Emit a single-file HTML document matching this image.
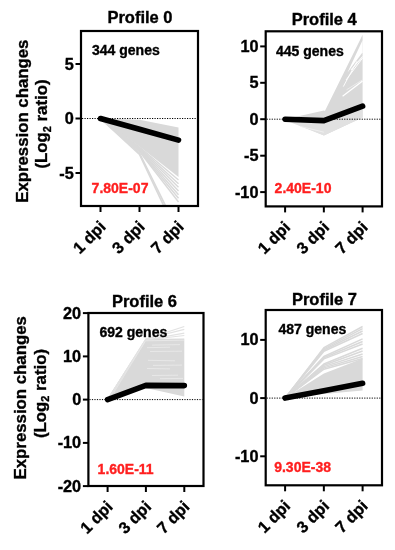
<!DOCTYPE html><html><head><meta charset="utf-8"><style>html,body{margin:0;padding:0;background:#fff;width:395px;height:550px;overflow:hidden}svg{display:block}text{font-family:'Liberation Sans', Arial, sans-serif;font-weight:bold;stroke:#000;stroke-width:0.35px}.r{fill:#ff1f1f;stroke:#ff1f1f}</style></head><body>
<svg width="395" height="550" viewBox="0 0 395 550">
<clipPath id="c0"><rect x="81" y="31" width="117" height="175"/></clipPath>
<g clip-path="url(#c0)"><polygon points="100.5,118.5 139.5,119.8 178.5,127.5 178.5,177.0 139.5,146.5" fill="#d9d9d9"/><polyline points="100.5,118.5 139.5,147.0 178.5,180.0" fill="none" stroke="#d9d9d9" stroke-width="1.4" stroke-linejoin="round"/><polyline points="100.5,118.5 139.5,147.8 178.5,183.7" fill="none" stroke="#d9d9d9" stroke-width="1.4" stroke-linejoin="round"/><polyline points="100.5,118.5 139.5,148.5 178.5,187.3" fill="none" stroke="#d9d9d9" stroke-width="1.4" stroke-linejoin="round"/><polyline points="100.5,118.5 139.5,149.2 178.5,191.0" fill="none" stroke="#d9d9d9" stroke-width="1.4" stroke-linejoin="round"/><polyline points="100.5,118.5 139.5,150.0 178.5,194.7" fill="none" stroke="#d9d9d9" stroke-width="1.4" stroke-linejoin="round"/><polyline points="100.5,118.5 139.5,150.8 178.5,198.3" fill="none" stroke="#d9d9d9" stroke-width="1.4" stroke-linejoin="round"/><polyline points="100.5,118.5 139.5,151.5 178.5,202.0" fill="none" stroke="#d9d9d9" stroke-width="1.4" stroke-linejoin="round"/><polyline points="100.5,118.5 139.5,153.0 178.5,232.0" fill="none" stroke="#d9d9d9" stroke-width="1.6" stroke-linejoin="round"/><polyline points="100.5,118.5 139.5,154.5 178.5,237.0" fill="none" stroke="#d9d9d9" stroke-width="1.6" stroke-linejoin="round"/></g>
<line x1="82" y1="118.5" x2="197" y2="118.5" stroke="#000" stroke-width="1" stroke-dasharray="1.2,1.3"/>
<polyline points="100.5,118.5 139.5,129.3 178.5,140.1" fill="none" stroke="#000" stroke-width="5.6" stroke-linecap="round" stroke-linejoin="round"/>
<rect x="81" y="31" width="117" height="175" fill="none" stroke="#000" stroke-width="2.2"/>
<line x1="75.5" y1="64.0" x2="81" y2="64.0" stroke="#000" stroke-width="2"/>
<text x="73.8" y="69.5" font-size="16.3" text-anchor="end">5</text>
<line x1="75.5" y1="118.5" x2="81" y2="118.5" stroke="#000" stroke-width="2"/>
<text x="73.8" y="124.0" font-size="16.3" text-anchor="end">0</text>
<line x1="75.5" y1="173.0" x2="81" y2="173.0" stroke="#000" stroke-width="2"/>
<text x="73.8" y="178.5" font-size="16.3" text-anchor="end">-5</text>
<line x1="100.5" y1="206" x2="100.5" y2="212" stroke="#000" stroke-width="2"/>
<text transform="translate(106.7,227.8) rotate(-45)" font-size="16.3" text-anchor="end">1 dpi</text>
<line x1="139.5" y1="206" x2="139.5" y2="212" stroke="#000" stroke-width="2"/>
<text transform="translate(145.7,227.8) rotate(-45)" font-size="16.3" text-anchor="end">3 dpi</text>
<line x1="178.5" y1="206" x2="178.5" y2="212" stroke="#000" stroke-width="2"/>
<text transform="translate(184.7,227.8) rotate(-45)" font-size="16.3" text-anchor="end">7 dpi</text>
<text x="140.0" y="22.6" font-size="16.5" text-anchor="middle">Profile 0</text>
<text x="92.0" y="54.8" font-size="14">344 genes</text>
<text x="91.6" y="193.2" font-size="14" class="r">7.80E-07</text>
<clipPath id="c1"><rect x="265.7" y="31.3" width="116.30000000000001" height="175.1"/></clipPath>
<g clip-path="url(#c1)"><polygon points="285.1,119.2 323.9,110.5 324.9,111.0 362.6,34.8 362.6,117.5 323.9,135.5" fill="#d9d9d9"/><polygon points="285.1,120.2 323.9,122.0 362.6,108.0 362.6,117.5 323.9,135.5" fill="#e1e1e1"/><polygon points="347.5,72.5 362.6,40.3 362.6,52.3" fill="#ffffff"/><polyline points="351.0,70.0 362.6,56.5" fill="none" stroke="#ffffff" stroke-width="1.1" stroke-linejoin="round"/><polyline points="342.6,96.2 362.6,80.9" fill="none" stroke="#ffffff" stroke-width="1.2" stroke-linejoin="round"/><polyline points="346.0,80.0 362.6,58.0" fill="none" stroke="#ffffff" stroke-width="1.0" stroke-linejoin="round"/><polyline points="343.3,86.6 357.1,61.1" fill="none" stroke="#ffffff" stroke-width="0.9" stroke-linejoin="round"/><polyline points="346.5,89.8 362.6,79.8" fill="none" stroke="#f0f0f0" stroke-width="0.8" stroke-linejoin="round"/><polyline points="300.0,126.3 323.9,132.2" fill="none" stroke="#f0f0f0" stroke-width="0.9" stroke-linejoin="round"/></g>
<line x1="266.7" y1="119.2" x2="381" y2="119.2" stroke="#000" stroke-width="1" stroke-dasharray="1.2,1.3"/>
<polyline points="285.1,119.2 323.9,120.6 362.6,106.2" fill="none" stroke="#000" stroke-width="5.6" stroke-linecap="round" stroke-linejoin="round"/>
<rect x="265.7" y="31.3" width="116.30000000000001" height="175.1" fill="none" stroke="#000" stroke-width="2.2"/>
<line x1="260.2" y1="46.4" x2="265.7" y2="46.4" stroke="#000" stroke-width="2"/>
<text x="258.5" y="51.9" font-size="16.3" text-anchor="end">10</text>
<line x1="260.2" y1="82.8" x2="265.7" y2="82.8" stroke="#000" stroke-width="2"/>
<text x="258.5" y="88.3" font-size="16.3" text-anchor="end">5</text>
<line x1="260.2" y1="119.2" x2="265.7" y2="119.2" stroke="#000" stroke-width="2"/>
<text x="258.5" y="124.8" font-size="16.3" text-anchor="end">0</text>
<line x1="260.2" y1="155.7" x2="265.7" y2="155.7" stroke="#000" stroke-width="2"/>
<text x="258.5" y="161.2" font-size="16.3" text-anchor="end">-5</text>
<line x1="260.2" y1="192.1" x2="265.7" y2="192.1" stroke="#000" stroke-width="2"/>
<text x="258.5" y="197.6" font-size="16.3" text-anchor="end">-10</text>
<line x1="285.1" y1="206.4" x2="285.1" y2="212.4" stroke="#000" stroke-width="2"/>
<text transform="translate(291.3,228.2) rotate(-45)" font-size="16.3" text-anchor="end">1 dpi</text>
<line x1="323.85" y1="206.4" x2="323.85" y2="212.4" stroke="#000" stroke-width="2"/>
<text transform="translate(330.1,228.2) rotate(-45)" font-size="16.3" text-anchor="end">3 dpi</text>
<line x1="362.6" y1="206.4" x2="362.6" y2="212.4" stroke="#000" stroke-width="2"/>
<text transform="translate(368.8,228.2) rotate(-45)" font-size="16.3" text-anchor="end">7 dpi</text>
<text x="324.2" y="25.1" font-size="16.5" text-anchor="middle">Profile 4</text>
<text x="276.0" y="55.6" font-size="14">445 genes</text>
<text x="274.6" y="193.2" font-size="14" class="r">2.40E-10</text>
<clipPath id="c2"><rect x="88.4" y="313" width="115.1" height="173"/></clipPath>
<g clip-path="url(#c2)"><polygon points="107.6,399.6 145.9,339.0 184.3,338.5 184.3,396.4 145.9,388.0" fill="#d9d9d9"/><polyline points="107.6,399.6 145.9,339.0 184.3,326.5" fill="none" stroke="#e2e2e2" stroke-width="1.2" stroke-linejoin="round"/><polyline points="107.6,399.6 145.9,339.0 184.3,329.4" fill="none" stroke="#e2e2e2" stroke-width="1.2" stroke-linejoin="round"/><polyline points="107.6,399.6 145.9,340.0 184.3,333.2" fill="none" stroke="#e2e2e2" stroke-width="1.2" stroke-linejoin="round"/><polyline points="107.6,399.6 145.9,340.0 184.3,335.5" fill="none" stroke="#e2e2e2" stroke-width="1.2" stroke-linejoin="round"/><polyline points="113.6,392.9 145.0,341.6" fill="none" stroke="#e8e8e8" stroke-width="0.8" stroke-linejoin="round"/><polyline points="146.0,340.8 184.0,340.2" fill="none" stroke="#e9e9e9" stroke-width="0.9" stroke-linejoin="round"/><polyline points="152.0,345.1 180.0,344.6" fill="none" stroke="#e9e9e9" stroke-width="0.9" stroke-linejoin="round"/><polyline points="147.0,347.7 170.0,347.2" fill="none" stroke="#e9e9e9" stroke-width="0.9" stroke-linejoin="round"/><polyline points="150.0,351.5 182.0,351.2" fill="none" stroke="#e9e9e9" stroke-width="0.9" stroke-linejoin="round"/><polyline points="148.0,360.3 175.0,360.8" fill="none" stroke="#e9e9e9" stroke-width="0.9" stroke-linejoin="round"/><polyline points="153.0,365.4 182.0,365.1" fill="none" stroke="#e9e9e9" stroke-width="0.9" stroke-linejoin="round"/><polyline points="147.0,368.5 170.0,368.9" fill="none" stroke="#e9e9e9" stroke-width="0.9" stroke-linejoin="round"/><polyline points="152.0,375.5 178.0,375.2" fill="none" stroke="#e9e9e9" stroke-width="0.9" stroke-linejoin="round"/><polyline points="160.0,378.7 183.0,378.4" fill="none" stroke="#e9e9e9" stroke-width="0.9" stroke-linejoin="round"/></g>
<line x1="89.4" y1="399.6" x2="202.5" y2="399.6" stroke="#000" stroke-width="1" stroke-dasharray="1.2,1.3"/>
<polyline points="107.6,399.6 145.9,385.4 184.3,385.6" fill="none" stroke="#000" stroke-width="5.6" stroke-linecap="round" stroke-linejoin="round"/>
<rect x="88.4" y="313" width="115.1" height="173" fill="none" stroke="#000" stroke-width="2.2"/>
<line x1="82.9" y1="313.1" x2="88.4" y2="313.1" stroke="#000" stroke-width="2"/>
<text x="81.2" y="318.6" font-size="16.3" text-anchor="end">20</text>
<line x1="82.9" y1="356.4" x2="88.4" y2="356.4" stroke="#000" stroke-width="2"/>
<text x="81.2" y="361.9" font-size="16.3" text-anchor="end">10</text>
<line x1="82.9" y1="399.6" x2="88.4" y2="399.6" stroke="#000" stroke-width="2"/>
<text x="81.2" y="405.1" font-size="16.3" text-anchor="end">0</text>
<line x1="82.9" y1="442.9" x2="88.4" y2="442.9" stroke="#000" stroke-width="2"/>
<text x="81.2" y="448.4" font-size="16.3" text-anchor="end">-10</text>
<line x1="82.9" y1="486.1" x2="88.4" y2="486.1" stroke="#000" stroke-width="2"/>
<text x="81.2" y="491.6" font-size="16.3" text-anchor="end">-20</text>
<line x1="107.6" y1="486" x2="107.6" y2="492" stroke="#000" stroke-width="2"/>
<text transform="translate(113.8,507.8) rotate(-45)" font-size="16.3" text-anchor="end">1 dpi</text>
<line x1="145.9" y1="486" x2="145.9" y2="492" stroke="#000" stroke-width="2"/>
<text transform="translate(152.1,507.8) rotate(-45)" font-size="16.3" text-anchor="end">3 dpi</text>
<line x1="184.3" y1="486" x2="184.3" y2="492" stroke="#000" stroke-width="2"/>
<text transform="translate(190.5,507.8) rotate(-45)" font-size="16.3" text-anchor="end">7 dpi</text>
<text x="144.5" y="306.8" font-size="16.5" text-anchor="middle">Profile 6</text>
<text x="99.5" y="336.6" font-size="14">692 genes</text>
<text x="97.6" y="473.5" font-size="14" class="r">1.60E-11</text>
<clipPath id="c3"><rect x="265.7" y="310" width="116.30000000000001" height="175.3"/></clipPath>
<g clip-path="url(#c3)"><polygon points="285.1,398.1 323.9,373.5 362.6,358.5 362.6,390.5 323.9,394.0" fill="#d9d9d9"/><polyline points="285.1,398.1 323.9,347.6 362.6,326.5" fill="none" stroke="#d9d9d9" stroke-width="1.5" stroke-linejoin="round"/><polyline points="285.1,398.1 323.9,348.8 362.6,328.7" fill="none" stroke="#d9d9d9" stroke-width="1.5" stroke-linejoin="round"/><polyline points="285.1,398.1 323.9,350.0 362.6,331.0" fill="none" stroke="#d9d9d9" stroke-width="1.5" stroke-linejoin="round"/><polyline points="285.1,398.1 323.9,351.2 362.6,333.5" fill="none" stroke="#d9d9d9" stroke-width="1.5" stroke-linejoin="round"/><polyline points="285.1,398.1 323.9,356.5 362.6,338.9" fill="none" stroke="#d9d9d9" stroke-width="1.5" stroke-linejoin="round"/><polyline points="285.1,398.1 323.9,357.7 362.6,341.5" fill="none" stroke="#d9d9d9" stroke-width="1.5" stroke-linejoin="round"/><polyline points="285.1,398.1 323.9,358.9 362.6,344.0" fill="none" stroke="#d9d9d9" stroke-width="1.5" stroke-linejoin="round"/><polyline points="285.1,398.1 323.9,364.0 362.6,348.3" fill="none" stroke="#d9d9d9" stroke-width="1.5" stroke-linejoin="round"/><polyline points="285.1,398.1 323.9,365.3 362.6,351.0" fill="none" stroke="#d9d9d9" stroke-width="1.5" stroke-linejoin="round"/><polyline points="285.1,398.1 323.9,366.6 362.6,354.0" fill="none" stroke="#d9d9d9" stroke-width="1.5" stroke-linejoin="round"/><polyline points="285.1,398.1 323.9,367.9 362.6,356.5" fill="none" stroke="#d9d9d9" stroke-width="1.5" stroke-linejoin="round"/><polyline points="285.1,398.1 323.9,369.2 362.6,358.5" fill="none" stroke="#d9d9d9" stroke-width="1.5" stroke-linejoin="round"/></g>
<line x1="266.7" y1="398.1" x2="381" y2="398.1" stroke="#000" stroke-width="1" stroke-dasharray="1.2,1.3"/>
<polyline points="285.1,398.1 323.9,390.7 362.6,383.3" fill="none" stroke="#000" stroke-width="5.6" stroke-linecap="round" stroke-linejoin="round"/>
<rect x="265.7" y="310" width="116.30000000000001" height="175.3" fill="none" stroke="#000" stroke-width="2.2"/>
<line x1="260.2" y1="339.9" x2="265.7" y2="339.9" stroke="#000" stroke-width="2"/>
<text x="258.5" y="345.4" font-size="16.3" text-anchor="end">10</text>
<line x1="260.2" y1="398.1" x2="265.7" y2="398.1" stroke="#000" stroke-width="2"/>
<text x="258.5" y="403.6" font-size="16.3" text-anchor="end">0</text>
<line x1="260.2" y1="456.3" x2="265.7" y2="456.3" stroke="#000" stroke-width="2"/>
<text x="258.5" y="461.8" font-size="16.3" text-anchor="end">-10</text>
<line x1="285.1" y1="485.3" x2="285.1" y2="491.3" stroke="#000" stroke-width="2"/>
<text transform="translate(291.3,507.1) rotate(-45)" font-size="16.3" text-anchor="end">1 dpi</text>
<line x1="323.85" y1="485.3" x2="323.85" y2="491.3" stroke="#000" stroke-width="2"/>
<text transform="translate(330.1,507.1) rotate(-45)" font-size="16.3" text-anchor="end">3 dpi</text>
<line x1="362.6" y1="485.3" x2="362.6" y2="491.3" stroke="#000" stroke-width="2"/>
<text transform="translate(368.8,507.1) rotate(-45)" font-size="16.3" text-anchor="end">7 dpi</text>
<text x="324.5" y="304.6" font-size="16.5" text-anchor="middle">Profile 7</text>
<text x="278.5" y="334.3" font-size="14">487 genes</text>
<text x="274.2" y="472.2" font-size="14" class="r">9.30E-38</text>
<text transform="translate(27.7,121.2) rotate(-90)" font-size="16.8" text-anchor="middle">Expression changes</text>
<text transform="translate(47.4,124.0) rotate(-90)" font-size="16.8" text-anchor="middle">(Log<tspan font-size="11" dy="3.5">2</tspan><tspan dy="-3.5"> ratio)</tspan></text>
<text transform="translate(25.8,397.8) rotate(-90)" font-size="16.8" text-anchor="middle">Expression changes</text>
<text transform="translate(45.6,393.5) rotate(-90)" font-size="16.8" text-anchor="middle">(Log<tspan font-size="11" dy="3.5">2</tspan><tspan dy="-3.5"> ratio)</tspan></text>
</svg></body></html>
